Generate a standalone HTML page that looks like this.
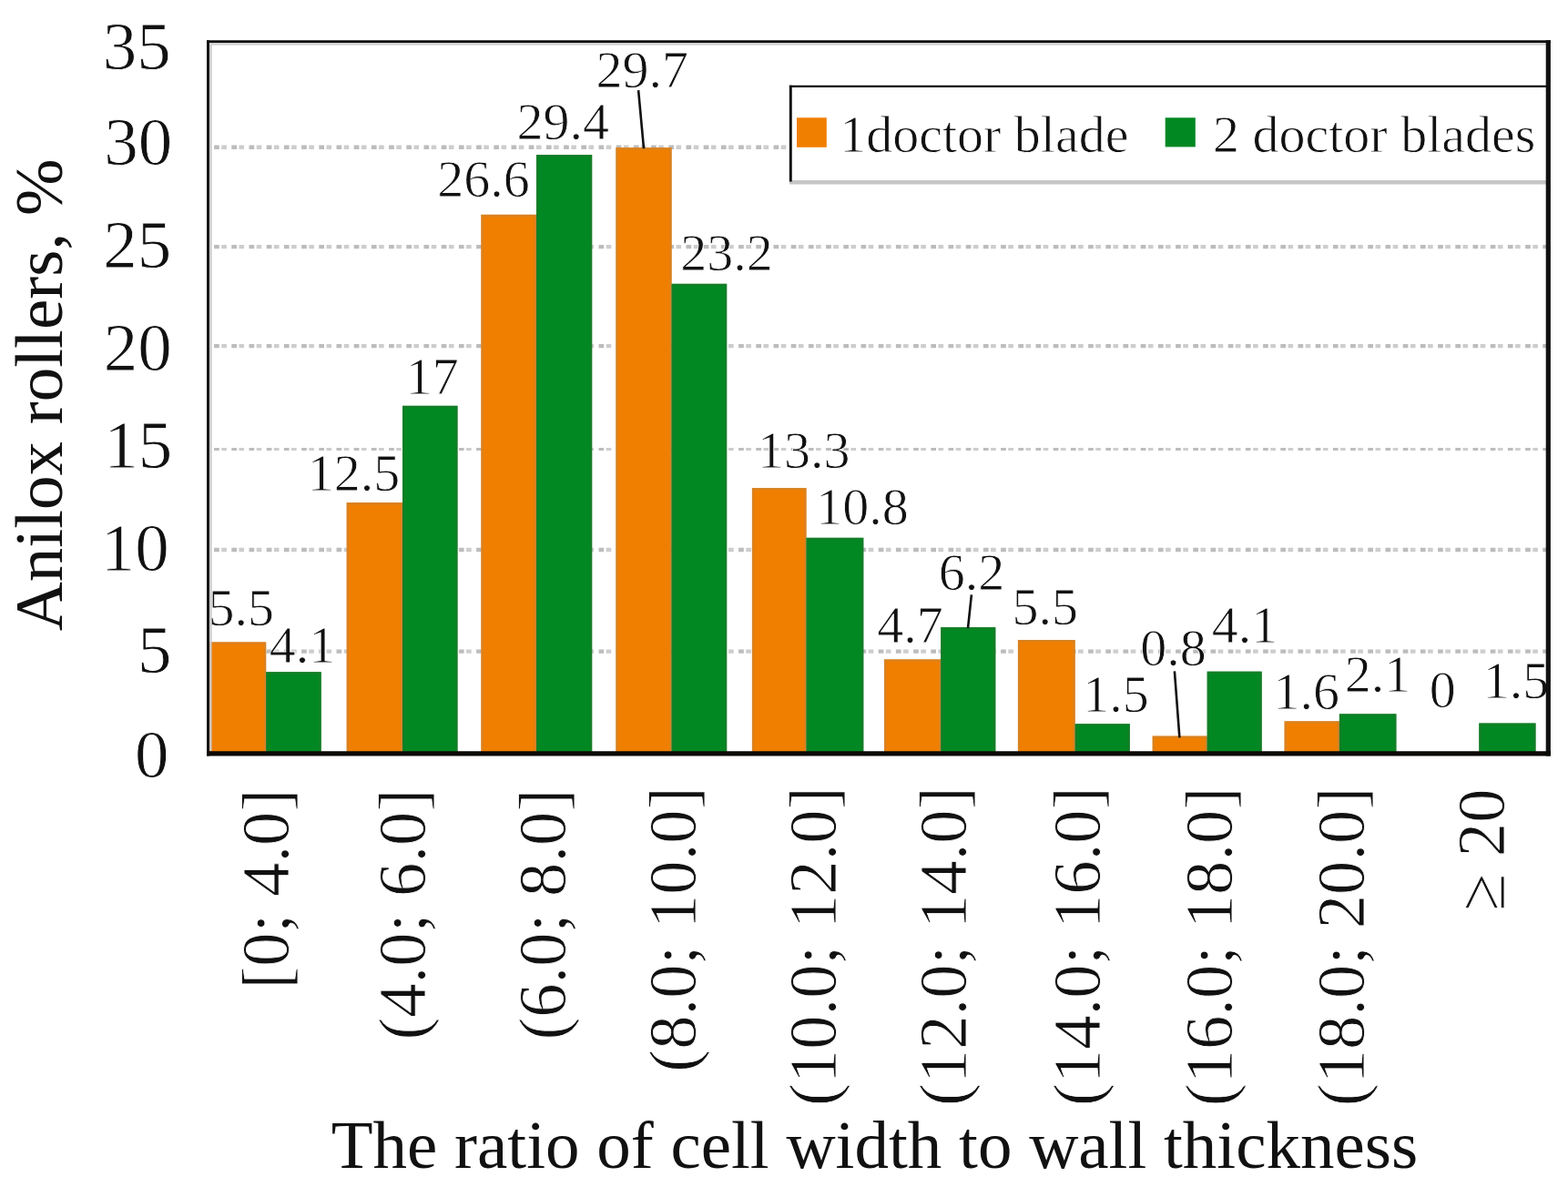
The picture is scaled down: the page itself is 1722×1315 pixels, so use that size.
<!DOCTYPE html>
<html><head><meta charset="utf-8"><title>Anilox rollers chart</title>
<style>html,body{margin:0;padding:0;background:#fff;}body{width:1722px;height:1315px;overflow:hidden;}svg{display:block;}</style>
</head><body>
<svg width="1722" height="1315" viewBox="0 0 1722 1315" font-family="'Liberation Serif', 'Times New Roman', serif" fill="#111">
<style>text{stroke:#fff;stroke-width:0.8px;} text.t{stroke:none;} text.k{stroke-width:0.8px;}</style>
<rect width="1722" height="1315" fill="#fff"/>
<defs><clipPath id="pc"><rect x="227" y="43.5" width="1471" height="790"/></clipPath></defs>
<g clip-path="url(#pc)">
<line x1="235.1" y1="161.8" x2="1698" y2="161.8" stroke="#bcbcbc" stroke-width="4.4" stroke-dasharray="5.7 13.5"/>
<line x1="243.3" y1="161.8" x2="1698" y2="161.8" stroke="#cdcdcd" stroke-width="4.4" stroke-dasharray="5.6 13.6"/>
<line x1="235.1" y1="271.1" x2="1698" y2="271.1" stroke="#bcbcbc" stroke-width="4.4" stroke-dasharray="5.7 13.5"/>
<line x1="243.3" y1="271.1" x2="1698" y2="271.1" stroke="#cdcdcd" stroke-width="4.4" stroke-dasharray="5.6 13.6"/>
<line x1="235.1" y1="380.2" x2="1698" y2="380.2" stroke="#bcbcbc" stroke-width="4.2" stroke-dasharray="5.7 13.5"/>
<line x1="243.3" y1="380.2" x2="1698" y2="380.2" stroke="#cdcdcd" stroke-width="4.2" stroke-dasharray="5.6 13.6"/>
<line x1="235.1" y1="493.4" x2="1698" y2="493.4" stroke="#bcbcbc" stroke-width="3.0" stroke-dasharray="5.7 13.5"/>
<line x1="243.3" y1="493.4" x2="1698" y2="493.4" stroke="#cdcdcd" stroke-width="3.0" stroke-dasharray="5.6 13.6"/>
<line x1="235.1" y1="604.0" x2="1698" y2="604.0" stroke="#bcbcbc" stroke-width="4.4" stroke-dasharray="5.7 13.5"/>
<line x1="243.3" y1="604.0" x2="1698" y2="604.0" stroke="#cdcdcd" stroke-width="4.4" stroke-dasharray="5.6 13.6"/>
<line x1="235.1" y1="715.7" x2="1698" y2="715.7" stroke="#bcbcbc" stroke-width="4.2" stroke-dasharray="5.7 13.5"/>
<line x1="243.3" y1="715.7" x2="1698" y2="715.7" stroke="#cdcdcd" stroke-width="4.2" stroke-dasharray="5.6 13.6"/>
<rect x="229.5" y="705.4" width="62.7" height="122.1" fill="#F07F00"/>
<rect x="230.6" y="706.5" width="60.5" height="122.1" fill="none" stroke="#D0832E" stroke-width="2.2" stroke-opacity="0.75"/>
<rect x="292.2" y="738.2" width="60.5" height="89.3" fill="#018822"/>
<rect x="293.3" y="739.3" width="58.3" height="89.3" fill="none" stroke="#1C7A2A" stroke-width="2.2" stroke-opacity="0.75"/>
<rect x="380.7" y="552.1" width="61.3" height="275.4" fill="#F07F00"/>
<rect x="381.8" y="553.2" width="59.1" height="275.4" fill="none" stroke="#D0832E" stroke-width="2.2" stroke-opacity="0.75"/>
<rect x="442.0" y="445.8" width="60.5" height="381.7" fill="#018822"/>
<rect x="443.1" y="446.9" width="58.3" height="381.7" fill="none" stroke="#1C7A2A" stroke-width="2.2" stroke-opacity="0.75"/>
<rect x="528.4" y="235.8" width="60.6" height="591.7" fill="#F07F00"/>
<rect x="529.5" y="236.9" width="58.4" height="591.7" fill="none" stroke="#D0832E" stroke-width="2.2" stroke-opacity="0.75"/>
<rect x="589.0" y="170.1" width="61.2" height="657.4" fill="#018822"/>
<rect x="590.1" y="171.2" width="59.0" height="657.4" fill="none" stroke="#1C7A2A" stroke-width="2.2" stroke-opacity="0.75"/>
<rect x="676.4" y="162.2" width="61.2" height="665.3" fill="#F07F00"/>
<rect x="677.5" y="163.3" width="59.0" height="665.3" fill="none" stroke="#D0832E" stroke-width="2.2" stroke-opacity="0.75"/>
<rect x="737.6" y="311.8" width="60.6" height="515.7" fill="#018822"/>
<rect x="738.7" y="312.9" width="58.4" height="515.7" fill="none" stroke="#1C7A2A" stroke-width="2.2" stroke-opacity="0.75"/>
<rect x="825.9" y="536.1" width="59.6" height="291.4" fill="#F07F00"/>
<rect x="827.0" y="537.2" width="57.4" height="291.4" fill="none" stroke="#D0832E" stroke-width="2.2" stroke-opacity="0.75"/>
<rect x="885.5" y="590.8" width="62.8" height="236.7" fill="#018822"/>
<rect x="886.6" y="591.9" width="60.6" height="236.7" fill="none" stroke="#1C7A2A" stroke-width="2.2" stroke-opacity="0.75"/>
<rect x="971.0" y="724.4" width="62.2" height="103.1" fill="#F07F00"/>
<rect x="972.1" y="725.5" width="60.0" height="103.1" fill="none" stroke="#D0832E" stroke-width="2.2" stroke-opacity="0.75"/>
<rect x="1033.2" y="689.1" width="60.1" height="138.4" fill="#018822"/>
<rect x="1034.3" y="690.2" width="57.9" height="138.4" fill="none" stroke="#1C7A2A" stroke-width="2.2" stroke-opacity="0.75"/>
<rect x="1117.9" y="703.0" width="62.8" height="124.5" fill="#F07F00"/>
<rect x="1119.0" y="704.1" width="60.6" height="124.5" fill="none" stroke="#D0832E" stroke-width="2.2" stroke-opacity="0.75"/>
<rect x="1180.7" y="795.2" width="60.1" height="32.3" fill="#018822"/>
<rect x="1181.8" y="796.3" width="57.9" height="32.3" fill="none" stroke="#1C7A2A" stroke-width="2.2" stroke-opacity="0.75"/>
<rect x="1265.7" y="808.6" width="60.0" height="18.9" fill="#F07F00"/>
<rect x="1266.8" y="809.7" width="57.8" height="18.9" fill="none" stroke="#D0832E" stroke-width="2.2" stroke-opacity="0.75"/>
<rect x="1325.7" y="737.7" width="60.0" height="89.8" fill="#018822"/>
<rect x="1326.8" y="738.8" width="57.8" height="89.8" fill="none" stroke="#1C7A2A" stroke-width="2.2" stroke-opacity="0.75"/>
<rect x="1410.6" y="792.3" width="60.3" height="35.2" fill="#F07F00"/>
<rect x="1411.7" y="793.4" width="58.1" height="35.2" fill="none" stroke="#D0832E" stroke-width="2.2" stroke-opacity="0.75"/>
<rect x="1470.9" y="784.3" width="62.5" height="43.2" fill="#018822"/>
<rect x="1472.0" y="785.4" width="60.3" height="43.2" fill="none" stroke="#1C7A2A" stroke-width="2.2" stroke-opacity="0.75"/>
<rect x="1624.3" y="794.5" width="62.2" height="33.0" fill="#018822"/>
<rect x="1625.4" y="795.6" width="60.0" height="33.0" fill="none" stroke="#1C7A2A" stroke-width="2.2" stroke-opacity="0.75"/>
<line x1="701.1" y1="99.2" x2="707.0" y2="163.1" stroke="#111" stroke-width="2.6"/><line x1="1066.9" y1="653.4" x2="1063.0" y2="690.1" stroke="#111" stroke-width="2.6"/><line x1="1289.9" y1="737.3" x2="1295.4" y2="810.4" stroke="#111" stroke-width="2.6"/>
<text x="228.6" y="687.3" font-size="58">5.5</text>
<text x="295.7" y="728.2" font-size="58">4.1</text>
<text x="337.7" y="538.7" font-size="58">12.5</text>
<text x="445.7" y="432.7" font-size="58">17</text>
<text x="480.3" y="216.2" font-size="58">26.6</text>
<text x="567.4" y="153.0" font-size="58">29.4</text>
<text x="654.6" y="95.5" font-size="58">29.7</text>
<text x="747.2" y="297.0" font-size="58">23.2</text>
<text x="832.1" y="513.9" font-size="58">13.3</text>
<text x="896.2" y="576.4" font-size="58">10.8</text>
<text x="963.2" y="706.4" font-size="58">4.7</text>
<text x="1030.7" y="648.0" font-size="58">6.2</text>
<text x="1111.4" y="686.2" font-size="58">5.5</text>
<text x="1189.3" y="782.4" font-size="58">1.5</text>
<text x="1252.3" y="731.3" font-size="58">0.8</text>
<text x="1330.8" y="706.3" font-size="58">4.1</text>
<text x="1398.5" y="778.6" font-size="58">1.6</text>
<text x="1476.7" y="760.3" font-size="58">2.1</text>
<text x="1569.8" y="776.6" font-size="58">0</text>
<text x="1628.7" y="766.9" font-size="58">1.5</text>
<rect x="868.3" y="94.8" width="840" height="104" fill="#fff"/>
<line x1="866.9" y1="200.2" x2="1698" y2="200.2" stroke="#c6c6c6" stroke-width="4.5"/>
<line x1="868.3" y1="93.7" x2="868.3" y2="199.5" stroke="#000" stroke-width="2.8"/>
<line x1="866.9" y1="94.8" x2="1698" y2="94.8" stroke="#000" stroke-width="2.2"/>
<rect x="875.0" y="129.3" width="32.8" height="32.5" fill="#F07F00"/>
<rect x="1279.7" y="129.3" width="33.1" height="32.1" fill="#018822"/>
<text x="922.2" y="166.9" font-size="58">1doctor blade</text>
<text x="1332.0" y="166.6" font-size="58">2 doctor blades</text>
</g>
<line x1="231.4" y1="47" x2="231.4" y2="825" stroke="#c8c8c8" stroke-width="2.4"/>
<line x1="230" y1="48.4" x2="1697.7" y2="48.4" stroke="#d4d4d4" stroke-width="2.8"/>
<line x1="228.5" y1="44.3" x2="228.5" y2="830.6" stroke="#111" stroke-width="2.9"/>
<line x1="227.1" y1="45.65" x2="1702.9" y2="45.65" stroke="#111" stroke-width="2.8"/>
<line x1="1700.3" y1="44.3" x2="1700.3" y2="830.6" stroke="#111" stroke-width="5.2"/>
<line x1="227.1" y1="827.95" x2="1702.9" y2="827.95" stroke="#0c0a06" stroke-width="5.3"/>
<text class="k" x="112.7" y="75.9" font-size="75">35</text>
<text class="k" x="114.2" y="181.4" font-size="75">30</text>
<text class="k" x="113.2" y="293.6" font-size="75">25</text>
<text class="k" x="113.8" y="407.1" font-size="75">20</text>
<text class="k" x="114.2" y="513.6" font-size="75">15</text>
<text class="k" x="110.7" y="627.1" font-size="75">10</text>
<text class="k" x="150.9" y="738.5" font-size="75">5</text>
<text class="k" x="147.9" y="854.2" font-size="75">0</text>
<text class="k" transform="translate(316.6,866.7) rotate(-90) scale(0.996,1)" text-anchor="end" font-size="75">[0; 4.0]</text>
<text class="k" transform="translate(467.4,866.7) rotate(-90) scale(0.996,1)" text-anchor="end" font-size="75">(4.0; 6.0]</text>
<text class="k" transform="translate(620.5,866.7) rotate(-90) scale(0.996,1)" text-anchor="end" font-size="75">(6.0; 8.0]</text>
<text class="k" transform="translate(764.4,864.4) rotate(-90) scale(0.996,1)" text-anchor="end" font-size="75">(8.0; 10.0]</text>
<text class="k" transform="translate(917.7,864.4) rotate(-90) scale(0.996,1)" text-anchor="end" font-size="75">(10.0; 12.0]</text>
<text class="k" transform="translate(1060.7,864.4) rotate(-90) scale(0.996,1)" text-anchor="end" font-size="75">(12.0; 14.0]</text>
<text class="k" transform="translate(1207.6,864.4) rotate(-90) scale(0.996,1)" text-anchor="end" font-size="75">(14.0; 16.0]</text>
<text class="k" transform="translate(1353.1,864.7) rotate(-90) scale(0.996,1)" text-anchor="end" font-size="75">(16.0; 18.0]</text>
<text class="k" transform="translate(1497.8,864.7) rotate(-90) scale(0.996,1)" text-anchor="end" font-size="75">(18.0; 20.0]</text>
<text class="k" transform="translate(1652.3,866.5) rotate(-90) scale(0.996,1)" text-anchor="end" font-size="75">&#8805; 20</text>
<text class="t" x="363.7" y="1282.7" font-size="75">The ratio of cell width to wall thickness</text>
<text class="t" transform="translate(68.0,693.3) rotate(-90)" font-size="75">Anilox rollers, %</text>
</svg>
</body></html>
